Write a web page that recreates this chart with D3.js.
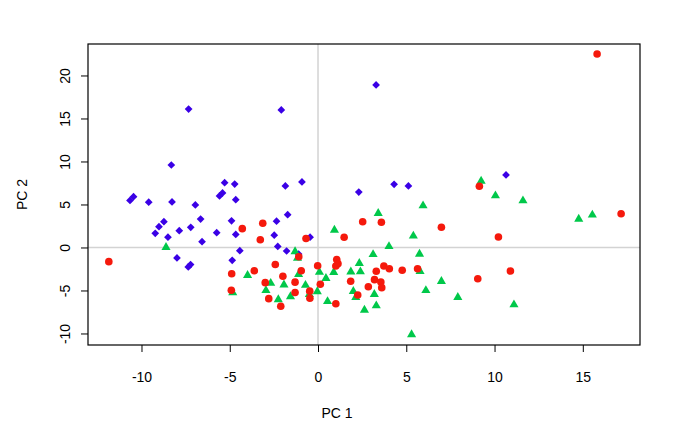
<!DOCTYPE html>
<html>
<head>
<meta charset="utf-8">
<script src="https://cdn.jsdelivr.net/npm/d3@7"></script>
<style>
  body { margin: 0; background: #fff; }
  text { font-family: "Liberation Sans", Arial, sans-serif; }
</style>
</head>
<body>
<div id="chart"></div>
<script>
// PC scores per group
var blueX = [-7.33, -2.08, 3.29, -8.31, -5.29, -4.72, -1.85, -0.91, -10.45, -10.65, -9.59, -8.27, -5.58, -5.41, -4.66,
  -6.95, -6.65, -8.73, -9.01, -9.22, -7.86, -7.21, -8.50, -5.74, -4.90, -4.66, -6.57, -4.43, -4.86, -7.99, -7.35, -7.22,
  -2.35, -1.72, -2.48, -2.28, -1.78, -1.10, -0.45, 2.31, 4.31, 5.12, 10.65];
var blueY = [16.10, 15.99, 18.90, 9.59, 7.53, 7.38, 7.15, 7.62, 5.91, 5.47, 5.26, 5.29, 5.99, 6.34, 5.56,
  4.94, 3.31, 3.00, 2.42, 1.65, 1.95, 2.35, 1.19, 1.72, 3.10, 1.51, 0.67, -0.37, -1.49, -1.22, -2.27, -1.98,
  3.06, 3.81, 1.43, 0.12, -0.41, -0.76, 1.19, 6.45, 7.35, 7.15, 8.43];

var redX = [15.81, 17.17, -11.85, -4.29, -3.13, -3.27, -0.68, 2.53, 3.59, 1.48, 1.06, 1.13, 1.01, -4.89, -4.91,
  -3.61, -2.42, -2.99, -1.99, -1.30, -0.95, -1.09, -0.02, 0.13, -1.30, -0.47, -0.46, -2.79, -2.11, 1.01,
  1.85, 2.25, 2.85, 3.30, 3.20, 3.56, 3.61, 3.73, 4.04, 4.77, 5.64, 6.99, 9.14, 10.22, 9.05, 10.90];
var redY = [22.50, 3.93, -1.65, 2.19, 2.81, 0.90, 1.05, 2.99, 2.94, 1.19, -1.40, -1.88, -2.15, -3.05, -4.98,
  -2.70, -1.98, -4.09, -3.35, -4.03, -2.70, -1.07, -2.12, -4.27, -5.23, -5.08, -5.91, -5.95, -6.84, -6.55,
  -3.93, -5.52, -4.56, -2.76, -3.74, -4.01, -4.67, -2.15, -2.47, -2.65, -2.47, 2.35, 7.12, 1.22, -3.63, -2.73];

var greenX = [-8.61, -3.99, -4.83, -2.95, -2.68, -1.93, -2.25, -1.56, -1.30, -1.16, -1.10, -0.71, -0.49, -0.04, 0.08,
  0.45, 0.89, 0.54, 0.93, 2.34, 1.86, 2.40, 2.00, 2.14, 3.12, 3.19, 2.63, 3.30, 3.41, 4.02, 5.40, 5.75, 5.30,
  5.95, 5.78, 6.11, 6.99, 7.92, 11.10, 9.24, 10.05, 11.61, 14.77, 15.54];
var greenY = [0.02, -3.23, -5.26, -5.00, -4.15, -4.34, -6.05, -5.70, -0.47, -1.24, -3.14, -4.38, -5.44, -5.12, -2.87,
  -3.58, -2.88, -6.28, 2.03, -1.84, -2.83, -2.81, -5.09, -5.79, -0.81, -5.44, -7.27, -6.77, 3.98, 0.12, 1.34, -0.76, -10.12,
  4.86, -2.77, -5.00, -3.93, -5.79, -6.65, 7.73, 6.02, 5.44, 3.31, 3.78];

var xTicks = [-10, -5, 0, 5, 10, 15];
var yTicks = [-10, -5, 0, 5, 10, 15, 20];

var width = 693, height = 438;
var boxL = 88, boxR = 640, boxT = 44, boxB = 345;

var x = d3.scaleLinear().domain([-13.03, 18.24]).range([boxL, boxR]);
var y = d3.scaleLinear().domain([-11.34, 23.66]).range([boxB, boxT]);

var svg = d3.select('#chart').append('svg').attr('width', width).attr('height', height);

// reference lines at 0
svg.append('line').attr('x1', x(0)).attr('x2', x(0)).attr('y1', boxT).attr('y2', boxB)
  .attr('stroke', '#d3d3d3').attr('stroke-width', 1.5);
svg.append('line').attr('x1', boxL).attr('x2', boxR).attr('y1', y(0)).attr('y2', y(0))
  .attr('stroke', '#d3d3d3').attr('stroke-width', 1.5);

function pts(xs, ys) {
  return xs.map(function(v, i) { return [v, ys[i]]; });
}

// blue diamonds
svg.append('g').selectAll('path').data(pts(blueX, blueY)).enter().append('path')
  .attr('d', d3.symbol().type(d3.symbolSquare).size(30))
  .attr('transform', function(d) { return 'translate(' + x(d[0]) + ',' + y(d[1]) + ') rotate(45)'; })
  .attr('fill', '#3a00e6');

// green triangles
svg.append('g').selectAll('path').data(pts(greenX, greenY)).enter().append('path')
  .attr('d', d3.symbol().type(d3.symbolTriangle).size(36))
  .attr('transform', function(d) { return 'translate(' + x(d[0]) + ',' + y(d[1]) + ')'; })
  .attr('fill', '#00c84a');

// red circles
svg.append('g').selectAll('circle').data(pts(redX, redY)).enter().append('circle')
  .attr('cx', function(d) { return x(d[0]); })
  .attr('cy', function(d) { return y(d[1]); })
  .attr('r', 3.8)
  .attr('fill', '#f5190c');

// axes
var fmt = function(d) { return String(d); };
var xAxis = svg.append('g').attr('transform', 'translate(0,' + boxB + ')')
  .call(d3.axisBottom(x).tickValues(xTicks).tickFormat(fmt).tickSize(7).tickSizeOuter(0).tickPadding(20));
var yAxis = svg.append('g').attr('transform', 'translate(' + boxL + ',0)')
  .call(d3.axisLeft(y).tickValues(yTicks).tickFormat(fmt).tickSize(7).tickSizeOuter(0).tickPadding(8));
[xAxis, yAxis].forEach(function(a) {
  a.select('.domain').remove();
  a.selectAll('.tick line').attr('stroke', '#000');
  a.selectAll('.tick text').attr('fill', '#000').style('font-size', '14px')
    .style('font-family', '"Liberation Sans", Arial, sans-serif');
});
yAxis.selectAll('.tick text')
  .attr('text-anchor', 'middle')
  .attr('dy', null)
  .attr('x', 0)
  .attr('transform', 'translate(-22,0) rotate(-90)')
  .attr('dominant-baseline', 'middle');

// frame
svg.append('rect').attr('x', boxL).attr('y', boxT).attr('width', boxR - boxL).attr('height', boxB - boxT)
  .attr('fill', 'none').attr('stroke', '#000').attr('stroke-width', 1.2);

svg.append('text').attr('x', 337).attr('y', 418).attr('text-anchor', 'middle')
  .style('font-size', '14px').text('PC 1');
svg.append('text').attr('transform', 'translate(27,' + (boxT + boxB) / 2 + ') rotate(-90)')
  .attr('text-anchor', 'middle').style('font-size', '14px').text('PC 2');
</script>
</body>
</html>
